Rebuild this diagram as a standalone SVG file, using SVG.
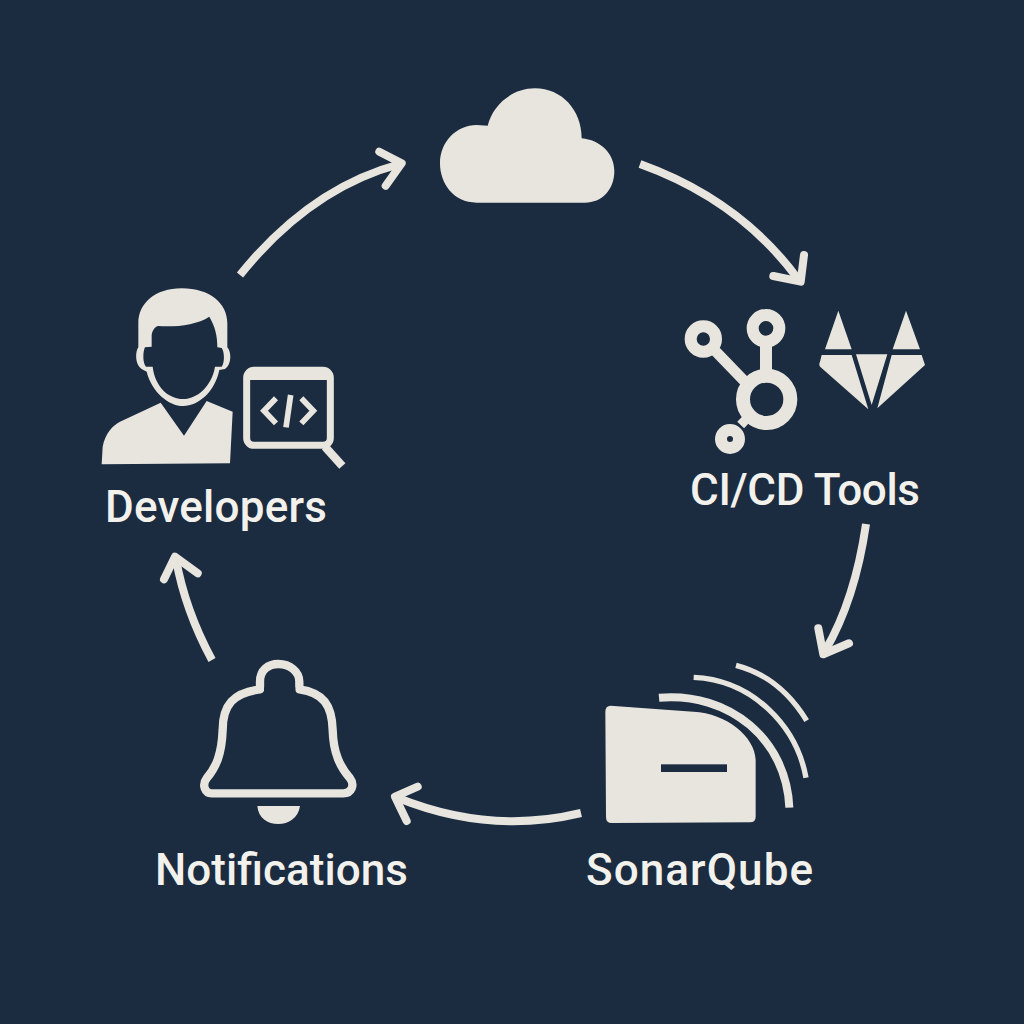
<svg xmlns="http://www.w3.org/2000/svg" width="1024" height="1024" viewBox="0 0 1024 1024">
<style>
.f{fill:#e8e5df}
.d{fill:#1b2c40}
.s{fill:none;stroke:#e8e5df}
.a{fill:none;stroke:#e8e5df;stroke-width:8;stroke-linecap:butt}
.h{fill:none;stroke:#e8e5df;stroke-width:8;stroke-linecap:round;stroke-linejoin:round}
.t{font-family:"Roboto","Liberation Sans",sans-serif;font-size:44px;font-weight:500;fill:#f3f1ec;text-anchor:middle}
</style>
<rect width="1024" height="1024" fill="#1b2c40"/>
<g id="connectors">
<path class="a" d="M240,275 Q310,188 400,164"/>
<path class="h" d="M379.300,151.700 L401.700,163.300 L385.700,185.700"/>
<path class="a" d="M640,164 Q740,200 798,279"/>
<path class="h" d="M773.300,276 L800.700,281.700 L804,255"/>
<path class="a" d="M866,524 Q855,600 825,651"/>
<path class="h" d="M818.300,628.300 L823.300,654.300 L849,643.300"/>
<path class="a" d="M581,813 Q490,835 398,798"/>
<path class="h" d="M417.700,786.700 L395,796.700 L406.700,821"/>
<path class="a" d="M212,660 Q185,610 176,559"/>
<path class="h" d="M164,579.300 L175,556.700 L197.700,573.300"/>
</g>
<g id="cloud">
<path class="f" transform="translate(220,70) scale(.33333)" d="M770,398 C700,398 660,340 660,280 C660,215 710,165 770,165 L803,167 C820,100 880,55 945,55 C1025,55 1085,120 1085,205 C1140,210 1183,250 1183,303 C1183,360 1145,398 1095,398 Z"/>
</g>
<g id="developers">
<g transform="translate(90,270) scale(.33333)">
<path class="f" d="M275,55 C360,55 412,100 412,160 L412,232 C425,245 425,285 405,297 L388,300 C375,365 325,408 280,408 C235,408 185,365 170,305 L155,297 C135,285 135,245 145,232 L145,160 C145,100 195,55 275,55 Z"/>
<path class="d" d="M185,230 L185,195 C187,180 195,170 205,168 C255,172 320,165 358,140 C375,170 382,195 382,232 L395,234 C404,245 404,280 395,290 L375,290 C365,350 320,387 280,387 C235,387 195,350 188,290 L168,290 C158,280 158,245 165,232 Z"/>
<path class="f" d="M35,583 L38,530 C45,490 70,465 90,455 L212,398 L282,497 L350,393 L428,425 L420,580 Z"/>
<rect x="470" y="301" width="251" height="225" rx="22" fill="none" stroke="#e8e5df" stroke-width="21"/>
<path class="f" d="M478,300 H715 V330 H478 Z"/>
<path class="s" stroke-width="25" d="M705,530 L757,588"/>
<path class="s" stroke-width="17" stroke-linejoin="miter" d="M558,385 L522,422 L558,460 M602,375 L588,472 M634,385 L670,422 L634,460"/>
</g>
<text class="t" x="216" y="522" textLength="222">Developers</text>
</g>
<g id="cicd-tools">
<g transform="translate(670,290) scale(.33333)">
<circle class="s" cx="290" cy="328" r="71" stroke-width="42"/>
<circle class="s" cx="100" cy="147" r="38" stroke-width="36"/>
<circle class="s" cx="288" cy="115" r="40" stroke-width="36"/>
<circle class="s" cx="180" cy="447" r="27" stroke-width="36"/>
<path class="s" stroke-width="32" d="M128,175 L225,275"/>
<path class="s" stroke-width="36" d="M288,165 V250"/>
<path class="s" stroke-width="28" d="M212,405 L245,370"/>
<path class="f" d="M505,62 L465,178 H545 Z M708,62 L668,178 H750 Z M558,193 H652 L605,345 Z M455,195 H545 L595,358 L452,232 Q445,225 450,215 Z M665,195 H755 L765,225 L622,355 Z"/>
</g>
<text class="t" x="805" y="505" textLength="230">CI/CD Tools</text>
</g>
<g id="sonarqube">
<g transform="translate(580,650) scale(.33333)">
<path class="f" d="M92,167 L340,185 C440,190 525,260 527,330 L527,500 Q527,517 510,517 L95,519 Q78,519 78,500 L76,185 Q76,167 92,167 Z"/>
<rect class="d" x="243" y="343" width="198" height="23"/>
<path class="s" stroke-width="24" d="M237,143 C450,125 620,270 628,473"/>
<path class="s" stroke-width="16" d="M341,82 C520,90 650,230 678,383"/>
<path class="s" stroke-width="16" d="M468,46 C560,70 630,130 680,212"/>
</g>
<text class="t" x="699.500" y="885" textLength="227">SonarQube</text>
</g>
<g id="notifications">
<g transform="translate(180,650) scale(.33333)">
<path class="s" stroke-width="25" stroke-linejoin="round" d="M240,118 L240,95 C240,60 265,42 295,42 C330,42 358,65 358,95 L358,118 C430,128 456,165 458,240 C460,310 480,350 510,385 C525,405 515,430 490,430 L95,430 C75,430 65,405 80,385 C110,350 125,310 128,240 C128,165 160,128 240,118 Z"/>
<path class="d" d="M252,112 H346 V135 H252 Z"/>
<path class="f" d="M232,468 H360 C355,505 325,522 295,522 C262,522 235,505 232,468 Z"/>
</g>
<text class="t" x="281.500" y="885" textLength="253">Notifications</text>
</g>
</svg>
